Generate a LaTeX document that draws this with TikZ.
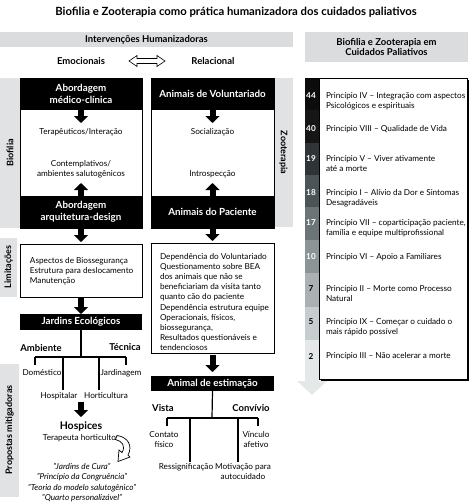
\documentclass[tikz,border=0pt]{standalone}
\usepackage{fontspec}
\setmainfont{Lato}
\usetikzlibrary{arrows.meta}
\definecolor{hdr}{RGB}{218,220,221}
\definecolor{band}{RGB}{224,226,227}
\definecolor{g44}{RGB}{12,12,12}
\definecolor{g40}{RGB}{22,22,22}
\definecolor{g19}{RGB}{47,53,55}
\definecolor{g18}{RGB}{75,85,87}
\definecolor{g17}{RGB}{107,117,119}
\definecolor{g10}{RGB}{139,148,150}
\definecolor{g7}{RGB}{169,177,179}
\definecolor{g5}{RGB}{198,205,206}
\definecolor{g2}{RGB}{228,232,233}
\begin{document}
\begin{tikzpicture}[x=1pt,y=-1pt,
  every node/.style={inner sep=0pt, outer sep=0pt},
  blkbox/.style={fill=black, text=white, font=\fontsize{9.8}{12}\selectfont\bfseries, align=center, anchor=north west},
  sm/.style={font=\fontsize{8.2}{10}\selectfont, align=center},
  smleft/.style={font=\fontsize{8.2}{10.2}\selectfont, align=left, anchor=west},
  framebox/.style={draw, line width=0.9pt, anchor=north west},
  hb/.style={font=\fontsize{9.5}{10.5}\selectfont\bfseries},
  bandlbl/.style={fill=band, font=\fontsize{9}{10}\selectfont\bfseries},
  blkarrow/.style={line width=6pt, -{Triangle[width=14pt,length=7pt]}},
  tree/.style={line width=1.2pt},
  num/.style={font=\fontsize{8.2}{9}\selectfont\bfseries},
  pr/.style={font=\fontsize{8.2}{10.3}\selectfont, align=left, anchor=west}
]
\useasboundingbox (0,0) rectangle (474,504);

% title
\node[font=\fontsize{11.3}{13}\selectfont\bfseries] (title) at (236,12) {Biofilia e Zooterapia como prática humanizadora dos cuidados paliativos};

% headers
\node[fill=hdr, minimum width=293pt, minimum height=15pt, anchor=north west, hb] (ih) at (0,32) {Intervenções Humanizadoras};
\node[fill=hdr, minimum width=163pt, minimum height=30pt, anchor=north west, hb, align=center] (bz) at (305,32) {Biofilia e Zooterapia em\\Cuidados Paliativos};

\node[hb] (emo) at (81,61) {Emocionais};
\node[hb] (rel) at (213,61) {Relacional};
\draw[fill=white, line width=0.6pt] (129,61) -- (137,55.5) -- (137,58.5) -- (157,58.5) -- (157,55.5) -- (165,61) -- (157,66.5) -- (157,63.5) -- (137,63.5) -- (137,66.5) -- cycle;

% side bands
\node[bandlbl, rotate=90, minimum width=150pt, minimum height=20pt] (bio) at (10,153) {Biofilia};
\node[bandlbl, rotate=-90, minimum width=149pt, minimum height=19pt] (zoo) at (283.5,152.5) {Zooterapia};
\node[bandlbl, rotate=90, minimum width=59pt, minimum height=17pt] (limb) at (8.5,267) {Limitações};
\node[bandlbl, rotate=90, minimum width=133pt, minimum height=19pt] (prop) at (9.5,430) {Propostas mitigadoras};

% left panel
\node[blkbox, minimum width=122pt, minimum height=32pt] (mc) at (20,78) {Abordagem\\médico-clínica};
\node[blkbox, minimum width=122pt, minimum height=32pt] (ad) at (20,196) {Abordagem\\arquitetura-design};
\draw[line width=0.9pt] (mc.north west) rectangle (ad.south east);
\node[sm] (ter) at (81,132) {Terapêuticos/Interação};
\node[sm] (con) at (81,169) {Contemplativos/\\ambientes salutogênicos};
\coordinate (mcA) at (81,123);
\coordinate (adA) at (81,183);
\draw[blkarrow] (mc.south) -- (mcA);
\draw[blkarrow] (ad.north) -- (adA);

% right panel
\node[blkbox, minimum width=123pt, minimum height=32pt] (av) at (151,78) {Animais de Voluntariado};
\node[blkbox, minimum width=123pt, minimum height=32pt] (ap) at (151,196) {Animais do Paciente};
\draw[line width=0.9pt] (av.north west) rectangle (ap.south east);
\node[sm] (soc) at (212.5,132) {Socialização};
\node[sm] (intr) at (212.5,174) {Introspecção};
\coordinate (avA) at (212.5,123);
\coordinate (apA) at (212.5,183);
\draw[blkarrow] (av.south) -- (avA);
\draw[blkarrow] (ap.north) -- (apA);

% limitations left
\node[framebox, minimum width=122pt, minimum height=53pt] (lim) at (20,244) {};
\node[smleft] (limt) at (30,271) {Aspectos de Biossegurança\\Estrutura para deslocamento\\Manutenção};
\draw[blkarrow, shorten >=2pt] (ad.south) -- (lim.north);

% jardins
\node[blkbox, minimum width=122pt, minimum height=16pt] (je) at (20,314) {Jardins Ecológicos};
\draw[blkarrow] (lim.south) -- (je.north);
\node[hb] (amb) at (41,348) {Ambiente};
\node[hb] (tec) at (125,347.5) {Técnica};
\coordinate (jt) at (81,357);
\coordinate (jl) at (35,357);
\coordinate (jr) at (126,357);
\coordinate (jm1) at (63,357);
\coordinate (jm2) at (99,357);
\draw[tree] (je.south) -- (jt);
\draw[tree] (jl) -- (jr);
\node[sm] (dom) at (42,373) {Doméstico};
\node[sm] (jard) at (121,373) {Jardinagem};
\node[sm] (hosp) at (59,396) {Hospitalar};
\node[sm] (hort) at (106,396) {Horticultura};
\draw[tree] (jl) -- (35,365);
\draw[tree] (jr) -- (126,365);
\draw[tree] (jm1) -- (63,390);
\draw[tree] (jm2) -- (99,390);

\node[font=\fontsize{10.5}{12}\selectfont\bfseries] (hosps) at (81,426) {Hospices};
\coordinate (hsA) at (81,402);
\coordinate (hsB) at (81,417);
\draw[blkarrow] (hsA) -- (hsB);
\node[sm] (terh) at (81,438) {Terapeuta horticultor};
\draw[fill=white, line width=0.7pt] (117,435.5) .. controls (128,437) and (133,446) .. (128,455) -- (130,457) -- (118,461.5) -- (119,450) -- (122,452.5) .. controls (126,446) and (122,441) .. (115.5,439.5) -- cycle;
\node[font=\fontsize{8.2}{10.3}\selectfont\itshape, align=center] (quotes) at (82,482.5) {"Jardins de Cura"\\"Princípio da Congruência"\\"Teoria do modelo salutogênico"\\"Quarto personalizável"};

% dependencies right
\node[framebox, minimum width=123pt, minimum height=110pt] (dep) at (151,243) {};
\node[smleft] (dept) at (160,302) {Dependência do Voluntariado\\Questionamento sobre BEA\\dos animais que não se\\beneficiariam da visita tanto\\quanto cão do paciente\\Dependência estrutura equipe\\Operacionais, físicos,\\biossegurança,\\Resultados questionáveis e\\tendenciosos};
\draw[blkarrow, shorten >=2pt] (ap.south) -- (dep.north);

\node[blkbox, minimum width=123pt, minimum height=15pt] (ae) at (151,376) {Animal de estimação};
\draw[blkarrow, shorten <=2pt, shorten >=4pt] (dep.south) -- (ae.north);
\node[hb] (vis) at (163,408) {Vista};
\node[hb] (conv) at (251,408) {Convívio};
\coordinate (at) at (212,418);
\coordinate (al) at (167,418);
\coordinate (ar) at (258,418);
\coordinate (am1) at (190,418);
\coordinate (am2) at (238,418);
\draw[tree] (ae.south) -- (at);
\draw[tree] (al) -- (ar);
\draw[tree] (al) -- (167,426);
\draw[tree] (ar) -- (258,426);
\draw[tree] (am1) -- (190,462);
\draw[tree] (am2) -- (238,462);
\node[sm] (cont) at (164,440) {Contato\\físico};
\node[sm] (vinc) at (256,440) {Vínculo\\afetivo};
\node[sm] (ress) at (186,467) {Ressignificação};
\node[sm] (motiv) at (243,472) {Motivação para\\autocuidado};

% right list panel
\fill[black] (321,80) rectangle (468.5,381);
\draw[fill=white, line width=0.8pt] (319,78) rectangle (467,379);
\fill[g44] (305,78) rectangle (319,110);
\fill[g40] (305,110) rectangle (319,143);
\fill[g19] (305,143) rectangle (319,175);
\fill[g18] (305,175) rectangle (319,207);
\fill[g17] (305,207) rectangle (319,240);
\fill[g10] (305,240) rectangle (319,273);
\fill[g7] (305,273) rectangle (319,307);
\fill[g5] (305,307) rectangle (319,340);
\fill[g2] (305,340) rectangle (319,381);
\fill[g2] (297,381) -- (327,381) -- (312,395) -- cycle;
\draw[line width=0.8pt] (305,78) -- (467,78);

\node[num, text=white] (n44) at (311,96) {44};
\node[num, text=white] (n40) at (311,129) {40};
\node[num, text=white] (n19) at (311,158) {19};
\node[num, text=white] (n18) at (311,193) {18};
\node[num, text=white] (n17) at (311,223) {17};
\node[num, text=white] (n10) at (311,257) {10};
\node[num] (n7) at (311,289) {7};
\node[num] (n5) at (311,322) {5};
\node[num] (n2) at (311,356) {2};

\node[pr] (p44) at (326,101) {Princípio IV – Integração com aspectos\\Psicológicos e espirituais};
\node[pr] (p40) at (326,129) {Princípio VIII – Qualidade de Vida};
\node[pr] (p19) at (326,163.5) {Princípio V – Viver ativamente\\até a morte};
\node[pr] (p18) at (326,198) {Princípio I – Alívio da Dor e Sintomas\\Desagradáveis};
\node[pr] (p17) at (326,228.5) {Princípio VII – coparticipação paciente,\\família e equipe multiprofissional};
\node[pr] (p10) at (326,257) {Princípio VI – Apoio a Familiares};
\node[pr] (p7) at (326,293.5) {Princípio II – Morte como Processo\\Natural};
\node[pr] (p5) at (326,327) {Princípio IX – Começar o cuidado o\\mais rápido possível};
\node[pr] (p2) at (326,356) {Princípio III – Não acelerar a morte};
\end{tikzpicture}
\end{document}
